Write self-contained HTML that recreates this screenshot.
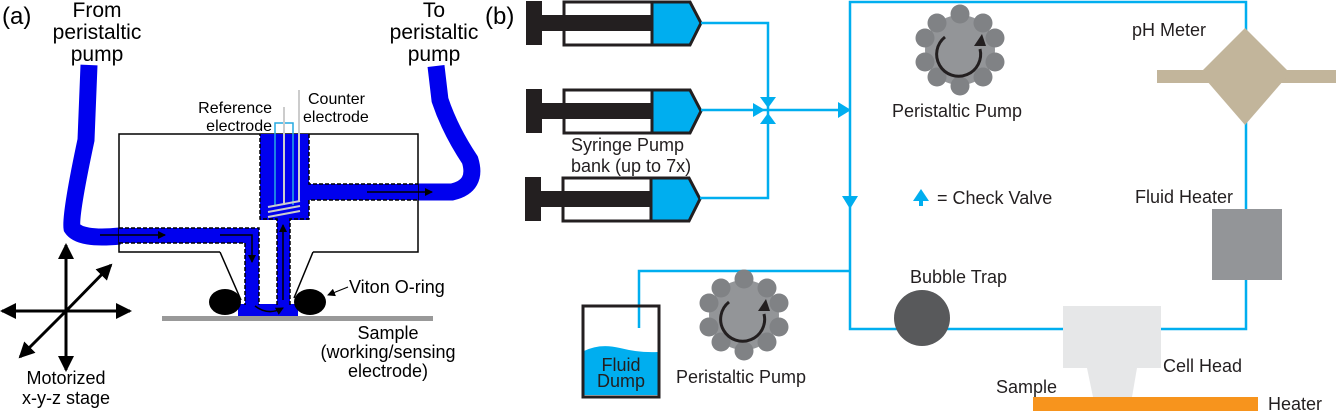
<!DOCTYPE html>
<html><head><meta charset="utf-8"><style>
html,body{margin:0;padding:0;background:#fff;}
svg{display:block;font-family:"Liberation Sans",sans-serif;}
</style></head><body>
<svg width="1338" height="414" viewBox="0 0 1338 414" xmlns="http://www.w3.org/2000/svg">
<defs>
<marker id="ah" markerWidth="8" markerHeight="8" refX="7" refY="4" orient="auto" markerUnits="userSpaceOnUse"><path d="M0,0 L8,4 L0,8 Z" fill="#000"/></marker>
<marker id="bh" markerWidth="16" markerHeight="16" refX="14" refY="8" orient="auto" markerUnits="userSpaceOnUse"><path d="M0,0 L16,8 L0,16 Z" fill="#000"/></marker>
</defs>
<!-- Panel a -->
<text x="2" y="24" font-size="24">(a)</text>
<g font-size="21" text-anchor="middle">
<text x="97" y="17">From</text><text x="97" y="39">peristaltic</text><text x="97" y="61">pump</text>
<text x="434" y="17">To</text><text x="434" y="39">peristaltic</text><text x="434" y="61">pump</text>
</g>
<!-- tubes -->
<path d="M89,65 L86,140 Q70,215 72,228 Q80,240 120,236" fill="none" stroke="#0000ee" stroke-width="17"/>
<path d="M418,192 L452,192 Q478,186 470,160 Q450,130 440,100 L436,66" fill="none" stroke="#0000ee" stroke-width="17"/>
<!-- box -->
<polyline points="220,252 119,252 119,134 418,134 418,252 313,252" fill="none" stroke="#000" stroke-width="1.5"/>
<line x1="220" y1="252" x2="241" y2="300" stroke="#000" stroke-width="1.5"/>
<line x1="313" y1="252" x2="294" y2="298" stroke="#000" stroke-width="1.5"/>
<!-- channels -->
<g fill="#0000ee">
<rect x="119" y="228" width="140" height="15"/>
<rect x="245" y="228" width="14" height="80"/>
<rect x="277" y="219" width="13" height="89"/>
<rect x="260" y="134" width="49" height="86"/>
<rect x="309" y="184" width="109" height="16"/>
<rect x="238" y="304" width="60" height="12"/>
</g>
<g fill="none" stroke="#000" stroke-width="1.5" stroke-dasharray="4,2">
<polyline points="119,228 259,228 259,305"/>
<polyline points="119,243 245,243 245,305"/>
<polyline points="277,305 277,219 260,219 260,134"/>
<polyline points="290,305 290,219 309,219 309,200 418,200"/>
<polyline points="309,134 309,184 418,184"/>
</g>
<!-- flow arrows -->
<g stroke="#000" stroke-width="1.5" fill="none">
<line x1="100" y1="235" x2="165" y2="235" marker-end="url(#ah)"/>
<polyline points="220,235 252,235 252,262" marker-end="url(#ah)"/>
<line x1="283" y1="300" x2="283" y2="225" marker-end="url(#ah)"/>
<line x1="367" y1="192" x2="432" y2="192" marker-end="url(#ah)"/>
<path d="M255,306 Q268,316 283,308" marker-end="url(#ah)"/>
</g>
<!-- electrodes -->
<polyline points="275,205 275,123 293,123 293,205" fill="none" stroke="#27aae1" stroke-width="1.5"/>
<line x1="284" y1="107" x2="284" y2="205" stroke="#ccc" stroke-width="2"/>
<line x1="299" y1="90" x2="299" y2="202" stroke="#ccc" stroke-width="2"/>
<g stroke="#ccc" stroke-width="2">
<line x1="268" y1="207" x2="300" y2="201"/><line x1="268" y1="212" x2="300" y2="206"/><line x1="268" y1="217" x2="300" y2="211"/>
</g>
<!-- o-rings & sample -->
<ellipse cx="225" cy="302" rx="16" ry="13" fill="#000"/>
<ellipse cx="310" cy="302" rx="16" ry="13" fill="#000"/>
<rect x="162" y="316" width="271" height="5" fill="#999"/>
<g font-size="16">
<text x="272" y="113" text-anchor="end">Reference</text><text x="272" y="131" text-anchor="end">electrode</text>
<text x="308" y="104">Counter</text><text x="303" y="122">electrode</text>
</g>
<g font-size="18">
<text x="349" y="293">Viton O-ring</text>
<g text-anchor="middle"><text x="388" y="339">Sample</text><text x="388" y="358">(working/sensing</text><text x="388" y="377">electrode)</text>
<text x="66" y="384">Motorized</text><text x="66" y="404">x-y-z stage</text></g>
</g>
<line x1="348" y1="287" x2="328" y2="295" stroke="#000" stroke-width="1.2" marker-end="url(#ah)"/>
<!-- stage cross -->
<g stroke="#000" stroke-width="3">
<line x1="66" y1="311" x2="66" y2="245" marker-end="url(#bh)"/>
<line x1="66" y1="311" x2="66" y2="370" marker-end="url(#bh)"/>
<line x1="66" y1="311" x2="2" y2="311" marker-end="url(#bh)"/>
<line x1="66" y1="311" x2="130" y2="311" marker-end="url(#bh)"/>
<line x1="66" y1="311" x2="111" y2="265" marker-end="url(#bh)"/>
<line x1="66" y1="311" x2="20" y2="357" marker-end="url(#bh)"/>
</g>

<!-- Panel b -->
<text x="485" y="24" font-size="24">(b)</text>
<g>
<g>
<rect x="526" y="1" width="16" height="44" fill="#231f20"/><rect x="542" y="15" width="112" height="16" fill="#231f20"/>
<rect x="564" y="2" width="88" height="43" fill="none" stroke="#231f20" stroke-width="3"/>
<polygon points="652,2 690,2 701,23 690,45 652,45" fill="#00aeef" stroke="#231f20" stroke-width="3"/>
</g>
<g transform="translate(0,88)">
<rect x="526" y="1" width="16" height="44" fill="#231f20"/><rect x="542" y="15" width="112" height="16" fill="#231f20"/>
<rect x="564" y="2" width="88" height="43" fill="none" stroke="#231f20" stroke-width="3"/>
<polygon points="652,2 690,2 701,23 690,45 652,45" fill="#00aeef" stroke="#231f20" stroke-width="3"/>
</g>
<g transform="translate(-1,176)">
<rect x="526" y="1" width="16" height="44" fill="#231f20"/><rect x="542" y="15" width="112" height="16" fill="#231f20"/>
<rect x="564" y="2" width="88" height="43" fill="none" stroke="#231f20" stroke-width="3"/>
<polygon points="652,2 690,2 701,23 690,45 652,45" fill="#00aeef" stroke="#231f20" stroke-width="3"/>
</g>
</g>
<g fill="none" stroke="#00aeef" stroke-width="2.5">
<polyline points="701,23 768,23 768,198 700,198"/>
<line x1="701" y1="110" x2="850" y2="110"/>
<rect x="850" y="2" width="396" height="327"/>
<polyline points="850,271 639,271 639,328"/>
</g>
<g fill="#00aeef">
<polygon points="760,97 776,97 768,108"/>
<polygon points="760,124 776,124 768,113"/>
<polygon points="753,103 753,117 765,110"/>
<polygon points="838,102 838,118 851,110"/>
<polygon points="842,196 858,196 850,209"/>
<polygon points="913,201 929,201 921,189"/>
<rect x="919" y="200" width="4" height="6"/>
</g>
<!-- fluid dump -->
<path d="M584,351 Q600,343 620,348 T658,352 L658,395 L584,395 Z" fill="#00aeef"/>
<rect x="583" y="306" width="76" height="91" fill="none" stroke="#231f20" stroke-width="3"/>
<g font-size="18" text-anchor="middle" fill="#231f20"><text x="621" y="371">Fluid</text><text x="621" y="387">Dump</text></g>
<!-- pumps -->
<g transform="translate(744,315)" fill="#808285">
<circle r="35" fill="#939598"/>
<circle cx="0" cy="-36" r="9.5"/><circle cx="23" cy="-27" r="9.5"/><circle cx="35" cy="-12" r="9.5"/><circle cx="35" cy="12" r="9.5"/><circle cx="23" cy="27" r="9.5"/><circle cx="0" cy="36" r="9.5"/><circle cx="-23" cy="27" r="9.5"/><circle cx="-35" cy="12" r="9.5"/><circle cx="-35" cy="-12" r="9.5"/><circle cx="-23" cy="-27" r="9.5"/>
<path d="M-15,-13 A22,22 0 1 0 20,-1" fill="none" stroke="#231f20" stroke-width="3"/>
<polygon points="14,-4 26,-4 22,-16" fill="#231f20"/>
</g>
<g transform="translate(960,50)" fill="#808285">
<circle r="35" fill="#939598"/>
<circle cx="0" cy="-36" r="9.5"/><circle cx="23" cy="-27" r="9.5"/><circle cx="35" cy="-12" r="9.5"/><circle cx="35" cy="12" r="9.5"/><circle cx="23" cy="27" r="9.5"/><circle cx="0" cy="36" r="9.5"/><circle cx="-23" cy="27" r="9.5"/><circle cx="-35" cy="12" r="9.5"/><circle cx="-35" cy="-12" r="9.5"/><circle cx="-23" cy="-27" r="9.5"/>
<path d="M-15,-13 A22,22 0 1 0 20,-1" fill="none" stroke="#231f20" stroke-width="3"/>
<polygon points="14,-4 26,-4 22,-16" fill="#231f20"/>
</g>
<!-- pH meter -->
<rect x="1157" y="70" width="179" height="13" fill="#c2b59b"/>
<polygon points="1245,28 1290,73 1245,125 1200,73" fill="#c2b59b"/>
<rect x="1212" y="209" width="70" height="71" fill="#939598"/>
<circle cx="922" cy="318" r="28" fill="#58595b"/>
<rect x="1063" y="306" width="98" height="62" fill="#e6e7e8"/>
<polygon points="1087,368 1137,368 1132,397 1093,397" fill="#e6e7e8"/>
<rect x="1033" y="397" width="225" height="14" fill="#f7941d"/>
<g font-size="18" fill="#231f20">
<text x="571" y="151">Syringe Pump</text><text x="571" y="172">bank (up to 7x)</text>
<text x="676" y="383">Peristaltic Pump</text>
<text x="892" y="117">Peristaltic Pump</text>
<text x="1132" y="36">pH Meter</text>
<text x="937" y="204">= Check Valve</text>
<text x="1135" y="203">Fluid Heater</text>
<text x="910" y="283">Bubble Trap</text>
<text x="1163" y="372">Cell Head</text>
<text x="996" y="393">Sample</text>
<text x="1268" y="410">Heater</text>
</g>
</svg>
</body></html>
